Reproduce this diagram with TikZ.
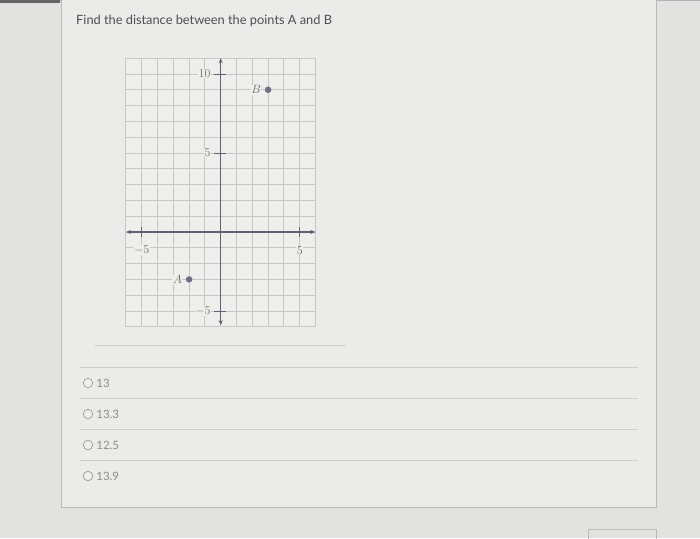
\documentclass[tikz,border=0pt]{standalone}
\usepackage{fontspec}
\setsansfont{Lato}
\usetikzlibrary{arrows.meta,positioning}

\definecolor{pagebg}{HTML}{E2E2E0}
\definecolor{cardbg}{HTML}{EBEBE9}
\definecolor{cardline}{HTML}{B9B9B7}
\definecolor{sepline}{HTML}{CDCDCB}
\definecolor{gridbg}{HTML}{EEEEEC}
\definecolor{gridline}{HTML}{C6C6C4}
\definecolor{axiscol}{HTML}{5C6174}
\definecolor{titletxt}{HTML}{4E4E4E}
\definecolor{opttxt}{HTML}{8C8C8A}

\tikzset{
  question/.style={anchor=base west, text=titletxt, inner sep=0pt,
    font=\sffamily\fontsize{12.8}{15}\selectfont},
  radio/.style={circle, draw=opttxt!80, fill=gridbg, line width=0.8pt,
    minimum size=9.5pt, inner sep=0pt},
  answer/.style={right=3pt of #1, text=opttxt, inner sep=0pt,
    font=\sffamily\fontsize{11.5}{13}\selectfont},
  separator/.style={draw=sepline, line width=0.8pt},
  axisline/.style={draw=axiscol, line width=1.3pt},
  ticklabel/.style={text=opttxt!75!black, fill=gridbg, inner sep=0.6pt,
    font=\fontsize{13}{15}\selectfont},
  pointdot/.style={circle, fill=axiscol!90, minimum size=6.5pt, inner sep=0pt},
  pointname/.style={text=opttxt!75!black, fill=gridbg, inner sep=0.6pt,
    font=\fontsize{13}{15}\selectfont}
}

\begin{document}
\begin{tikzpicture}[x=1pt, y=-1pt]
	\fill[pagebg] (0,0) rectangle (700,538);
	\useasboundingbox (0,0) rectangle (700,538);
	\fill[black!60] (0,0) rectangle (60,2.5);
	\fill[black!30] (60,0) rectangle (700,1);
	
	\draw[cardline, fill=cardbg, line width=0.9pt] (61,-2) rectangle (656,507);
	\draw[cardline, line width=0.9pt] (588,529) -- (588,540) (588,529) -- (656,529) -- (656,540);
	
	\node[question] (title) at (76,24) {Find the distance between the points A and B};
	
	\draw[separator] (95,345) -- (346,345);
	\foreach \y in {367,398,429,460}{
		\draw[separator] (80,\y) -- (638,\y);
	}
	
	\foreach \i/\v in {0/13, 1/13.3, 2/12.5, 3/13.9}{
		\node[radio] (radio\i) at (88, 383+31*\i) {};
		\node[answer=radio\i] (answer\i) {\v};
	}
	
	% coordinate plane
	\begin{scope}[shift={(220.7,232)}, x=15.8pt, y=15.8pt]
		\fill[gridbg] (-6,-6) rectangle (6,11);
		\foreach \x in {-6,...,6}{
			\draw[gridline, line width=0.9pt] (\x,-6) -- (\x,11);
		}
		\foreach \y in {-6,...,11}{
			\draw[gridline, line width=0.9pt] (-6,\y) -- (6,\y);
		}
		
		\coordinate (xleft) at (-6,0);
		\coordinate (xright) at (6,0);
		\coordinate (ybottom) at (0,-5.9);
		\coordinate (ytop) at (0,11);
		\draw[axisline, {Stealth[length=5pt,width=4pt]}-{Stealth[length=5pt,width=4pt]}] (xleft) -- (xright);
		\draw[axisline, {Stealth[length=5pt,width=4pt]}-{Stealth[length=5pt,width=4pt]}] (ybottom) -- (ytop);
		
		\foreach \x in {-5,5}{
			\draw[axisline, line width=0.9pt] (\x,-0.3) -- (\x,0.3);
			\node[ticklabel] (xlab\x) at (\x,-1.15) {$\x$};
		}
		\foreach \y in {10,5,-5}{
			\draw[axisline, line width=0.9pt] (-0.4,\y) -- (0.35,\y);
			\node[ticklabel, anchor=east] (ylab\y) at (-0.6,\y) {$\y$};
		}
		
		\node[pointdot] (B) at (3,9) {};
		\node[pointname, left=3pt of B] (Bname) {$B$};
		\node[pointdot] (A) at (-2,-3) {};
		\node[pointname, left=3pt of A] (Aname) {$A$};
	\end{scope}
\end{tikzpicture}
\end{document}
